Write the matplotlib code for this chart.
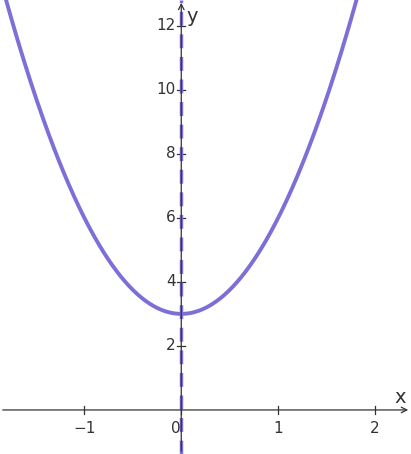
import numpy as np
import matplotlib
matplotlib.use('Agg')
from matplotlib import pyplot as plt

# y = a*x^2 + b*x + c
coeffs = [3, 0, 3]
x_ticks = [-1, 0, 1, 2]
x_labels = ['\u22121', '0', '1', '2']
y_ticks = [2, 4, 6, 8, 10, 12]
purple = '#7d6fd8'

fig = plt.figure(figsize=(4.11, 4.54), dpi=100)
ax = fig.add_axes([0, 0, 1, 1])
ax.set_xlim(-1.87, 2.37)
ax.set_ylim(-1.375, 12.8)
ax.axis('off')

# axes with arrows
ax.annotate('', xy=(2.37, 0), xytext=(-1.87, 0),
            arrowprops=dict(arrowstyle='->', color='#333333', lw=0.9))
ax.annotate('', xy=(0, 12.8), xytext=(0, -1.375),
            arrowprops=dict(arrowstyle='->', color='#333333', lw=0.9))
ax.text(2.2, 0.1, 'x', fontsize=14, color='#333333', va='bottom')
ax.text(0.05, 12.3, 'y', fontsize=14, color='#333333', va='center')

for t, lab in zip(x_ticks, x_labels):
    ax.plot([t, t], [-0.12, 0.12], color='#333333', lw=0.9)
    ax.text(t - 0.06 if t == 0 else t, -0.35, lab, fontsize=11, color='#333333',
            ha='center', va='top')
for t in y_ticks:
    ax.plot([-0.04, 0.04], [t, t], color='#333333', lw=0.9)
    ax.text(-0.06, t, str(t), fontsize=11, color='#333333', ha='right', va='center')

xs = np.linspace(-1.87, 2.37, 400)
ax.plot(xs, np.polyval(coeffs, xs), color=purple, lw=2.8)
ax.axvline(0, color=purple, lw=2.5, ls=(0, (4, 2.5)))

fig.savefig('out.png', dpi=100)
